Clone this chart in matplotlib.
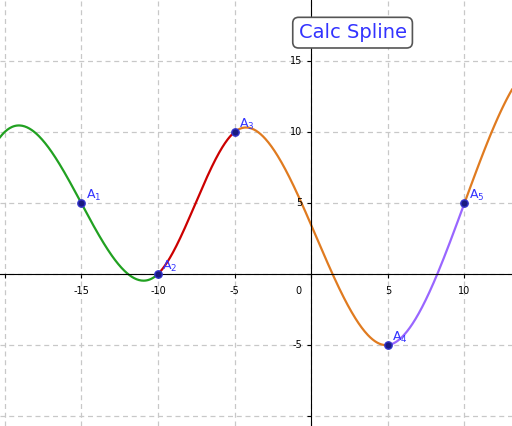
import numpy as np
import matplotlib.pyplot as plt

px = [-15, -10, -5, 5, 10]
py = [5, 0, 10, -5, 5]
names = ["A$_1$", "A$_2$", "A$_3$", "A$_4$", "A$_5$"]
seg_colors = ["#21a121", "#cc0000", "#e07b20", "#9966ff"]
xticks = [-15, -10, -5, 5, 10]
yticks = [-5, 5, 10, 15]


def natural_spline(xs, ys):
    xs = np.asarray(xs, float); ys = np.asarray(ys, float)
    n = len(xs)
    h = np.diff(xs)
    A = np.zeros((n, n)); b = np.zeros(n)
    A[0, 0] = A[-1, -1] = 1
    for i in range(1, n - 1):
        A[i, i - 1] = h[i - 1]; A[i, i] = 2 * (h[i - 1] + h[i]); A[i, i + 1] = h[i]
        b[i] = 6 * ((ys[i + 1] - ys[i]) / h[i] - (ys[i] - ys[i - 1]) / h[i - 1])
    M = np.linalg.solve(A, b)

    def f(x, i):
        t0 = x - xs[i]; t1 = xs[i + 1] - x
        return (M[i] * t1**3 + M[i + 1] * t0**3) / (6 * h[i]) \
            + (ys[i] / h[i] - M[i] * h[i] / 6) * t1 + (ys[i + 1] / h[i] - M[i + 1] * h[i] / 6) * t0
    return f


f = natural_spline(px, py)

fig = plt.figure(figsize=(5.12, 4.26), dpi=100)
ax = fig.add_axes([0, 0, 1, 1])
ax.set_xlim(-20.3, 13.1)
ax.set_ylim(-10.7, 19.3)

# left extrapolation + first segment, middle segments, right extrapolation
xx = np.linspace(-20.3, -10, 200)
ax.plot(xx, f(xx, 0), color=seg_colors[0], lw=1.6)
for i in range(1, 4):
    xx = np.linspace(px[i], px[i + 1], 200)
    ax.plot(xx, f(xx, i), color=seg_colors[i], lw=1.6)
xx = np.linspace(10, 13.1, 100)
ax.plot(xx, f(xx, 3), color=seg_colors[2], lw=1.6)

ax.scatter(px, py, s=28, color="#1a1a80", edgecolor="#3333cc", zorder=5)
for x, y, n in zip(px, py, names):
    ax.text(x + 0.3, y + 0.3, n, color="#3333ff", fontsize=9)

ax.set_xticks(range(-20, 15, 5))
ax.set_yticks(range(-10, 20, 5))
ax.grid(True, color="#c8c8c8", ls=(0, (4, 3)), lw=0.9)
for s in ["top", "right"]:
    ax.spines[s].set_visible(False)
ax.spines["left"].set_position(("data", 0))
ax.spines["bottom"].set_position(("data", 0))
ax.tick_params(direction="out", length=3, labelsize=7, pad=6,
               labelbottom=False, labelleft=False)
for t in xticks:
    ax.text(t, -1.2, str(t), ha="center", va="center", fontsize=7)
for t in yticks:
    ax.text(-0.6, t, str(t), ha="right", va="center", fontsize=7)
ax.text(-0.6, -1.2, "0", ha="right", va="center", fontsize=7)

ax.text(2.7, 17.0, "Calc Spline", color="#3333ff", fontsize=14, ha="center", va="center",
        bbox=dict(boxstyle="round,pad=0.3", fc="white", ec="#555555", lw=1.2))

fig.savefig("out.png")
